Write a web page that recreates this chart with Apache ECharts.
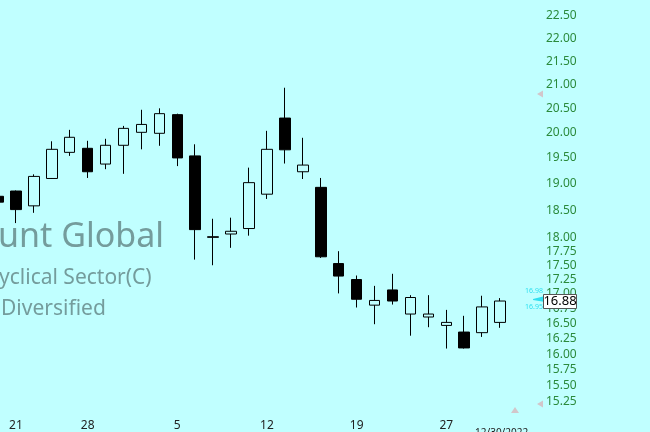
<!DOCTYPE html>
<html>
<head>
<meta charset="utf-8">
<script src="https://cdn.jsdelivr.net/npm/echarts@6/dist/echarts.min.js"></script>
<style>
  html, body { margin: 0; padding: 0; background: #c0ffff; }
  #chart { width: 650px; height: 432px; }
</style>
</head>
<body>
<div id="chart"></div>
<script>
// trading days, Nov 18 - Dec 30 2022
const dates = [
  "2022-11-18", "2022-11-21", "2022-11-22", "2022-11-23", "2022-11-25",
  "2022-11-28", "2022-11-29", "2022-11-30", "2022-12-01", "2022-12-02",
  "2022-12-05", "2022-12-06", "2022-12-07", "2022-12-08", "2022-12-09",
  "2022-12-12", "2022-12-13", "2022-12-14", "2022-12-15", "2022-12-16",
  "2022-12-19", "2022-12-20", "2022-12-21", "2022-12-22", "2022-12-23",
  "2022-12-27", "2022-12-28", "2022-12-29", "2022-12-30"
];
// first day of each week gets a label
const labelDates = ["2022-11-21", "2022-11-28", "2022-12-05", "2022-12-12", "2022-12-19", "2022-12-27"];

const opens  = [18.76, 18.86, 18.58, 19.10, 19.61, 19.69, 19.38, 19.75, 20.01, 19.99,
                20.37, 19.54, 18.01, 18.06, 18.16, 18.80, 20.30, 19.23, 18.93, 17.53,
                17.25, 16.81, 17.07, 16.66, 16.61, 16.47, 16.36, 16.35, 16.52];
const closes = [18.65, 18.51, 19.14, 19.67, 19.91, 19.23, 19.75, 20.09, 20.17, 20.39,
                19.50, 18.14, 18.00, 18.11, 19.02, 19.67, 19.66, 19.36, 17.65, 17.31,
                16.91, 16.89, 16.88, 16.94, 16.66, 16.52, 16.10, 16.78, 16.88];
const lows   = [18.62, 18.26, 18.45, 19.09, 19.54, 19.11, 19.28, 19.19, 19.67, 19.74,
                19.34, 17.60, 17.50, 17.81, 18.03, 18.71, 19.39, 19.09, 17.63, 17.01,
                16.77, 16.49, 16.82, 16.30, 16.44, 16.09, 16.09, 16.28, 16.43];
const highs  = [18.78, 18.87, 19.18, 19.83, 20.06, 19.84, 19.88, 20.14, 20.47, 20.50,
                20.39, 19.77, 18.34, 18.36, 19.31, 20.04, 20.93, 19.90, 19.11, 17.75,
                17.32, 17.14, 17.35, 16.98, 16.98, 16.73, 16.63, 16.97, 16.93];

const priceTicks = [15.25, 15.5, 15.75, 16, 16.25, 16.5, 16.75, 17, 17.25, 17.5, 17.75,
                    18, 18.5, 19, 19.5, 20, 20.5, 21, 21.5, 22, 22.5];

const lastPrice = 16.88;
const bidAsk = ["16.98", "16.95"];

const candles = dates.map((d, i) => [opens[i], closes[i], lows[i], highs[i]]);

const chart = echarts.init(document.getElementById("chart"));
chart.setOption({
  animation: false,
  backgroundColor: "#c0ffff",
  grid: { left: -11, right: 123, top: 0, bottom: 20, outerBoundsMode: "none" },
  xAxis: {
    type: "category",
    data: dates.concat([""]),
    boundaryGap: true,
    axisLine: { show: false },
    axisTick: { show: false },
    axisLabel: {
      margin: 8,
      color: "#222",
      fontSize: 12,
      fontFamily: "Noto Sans",
      interval: (idx, val) => labelDates.indexOf(val) >= 0,
      formatter: (val) => String(Number(val.slice(8)))
    },
    splitLine: { show: false }
  },
  yAxis: {
    type: "log",
    position: "right",
    min: 15.093,
    max: 22.866,
    axisLine: { show: false },
    axisTick: { show: false },
    splitLine: { show: false },
    axisLabel: {
      customValues: priceTicks,
      margin: 19,
      color: "#2b8a3c",
      fontSize: 12,
      fontFamily: "Noto Sans",
      formatter: (v) => Number(v).toFixed(2)
    }
  },
  series: [{
    type: "candlestick",
    data: candles,
    barWidth: 11,
    clip: false,
    itemStyle: {
      color: "rgba(0,0,0,0)",
      color0: "#000",
      borderColor: "#000",
      borderColor0: "#000",
      borderWidth: 1
    }
  }]
});

// overlays placed from the axis scale
const yLast = chart.convertToPixel({ yAxisIndex: 0 }, lastPrice);
const wm = "#749c9c";
chart.setOption({
  graphic: [
    { type: "text", left: -2, top: 220, z: 0, silent: true,
      style: { text: "unt Global", fontSize: 34, fontFamily: "Noto Sans", fill: wm } },
    { type: "text", left: -1, top: 268, z: 0, silent: true,
      style: { text: "yclical Sector(C)", fontSize: 21, fontFamily: "Noto Sans", fill: wm } },
    { type: "text", left: 1, top: 299, z: 0, silent: true,
      style: { text: "Diversified", fontSize: 21, fontFamily: "Noto Sans", fill: wm } },
    { type: "polygon", silent: true,
      shape: { points: [[537, 94], [543, 90.5], [543, 97.5]] }, style: { fill: "#d2c6ca" } },
    { type: "polygon", silent: true,
      shape: { points: [[537, 404], [543, 400.5], [543, 407.5]] }, style: { fill: "#d2c6ca" } },
    { type: "polygon", silent: true,
      shape: { points: [[515, 407], [511, 413], [519, 413]] }, style: { fill: "#d2c6ca" } },
    { type: "text", x: 525, y: yLast - 10, silent: true,
      style: { text: bidAsk[0], fontSize: 7, fontFamily: "Noto Sans", fill: "#30e0f0", verticalAlign: "middle" } },
    { type: "text", x: 525, y: yLast + 6, silent: true,
      style: { text: bidAsk[1], fontSize: 7, fontFamily: "Noto Sans", fill: "#30e0f0", verticalAlign: "middle" } },
    { type: "polygon", silent: true,
      shape: { points: [[533, yLast - 2], [545, yLast - 5], [545, yLast + 1], [533, yLast - 1]] },
      style: { fill: "#30e0f0" } },
    { type: "rect", silent: true, z: 10,
      shape: { x: 543.5, y: Math.round(yLast) - 6.5, width: 33, height: 14 },
      style: { fill: "#fff", stroke: "#555", lineWidth: 1 } },
    { type: "text", x: 560, y: Math.round(yLast) + 0.5, z: 11, silent: true,
      style: { text: lastPrice.toFixed(2), fontSize: 13, fontFamily: "Noto Sans", fill: "#000",
               align: "center", verticalAlign: "middle" } },
    { type: "text", x: 475, y: 428, silent: true,
      style: { text: "12/30/2022", fontSize: 10, fontFamily: "Noto Sans", fill: "#222" } }
  ]
});
</script>
</body>
</html>
